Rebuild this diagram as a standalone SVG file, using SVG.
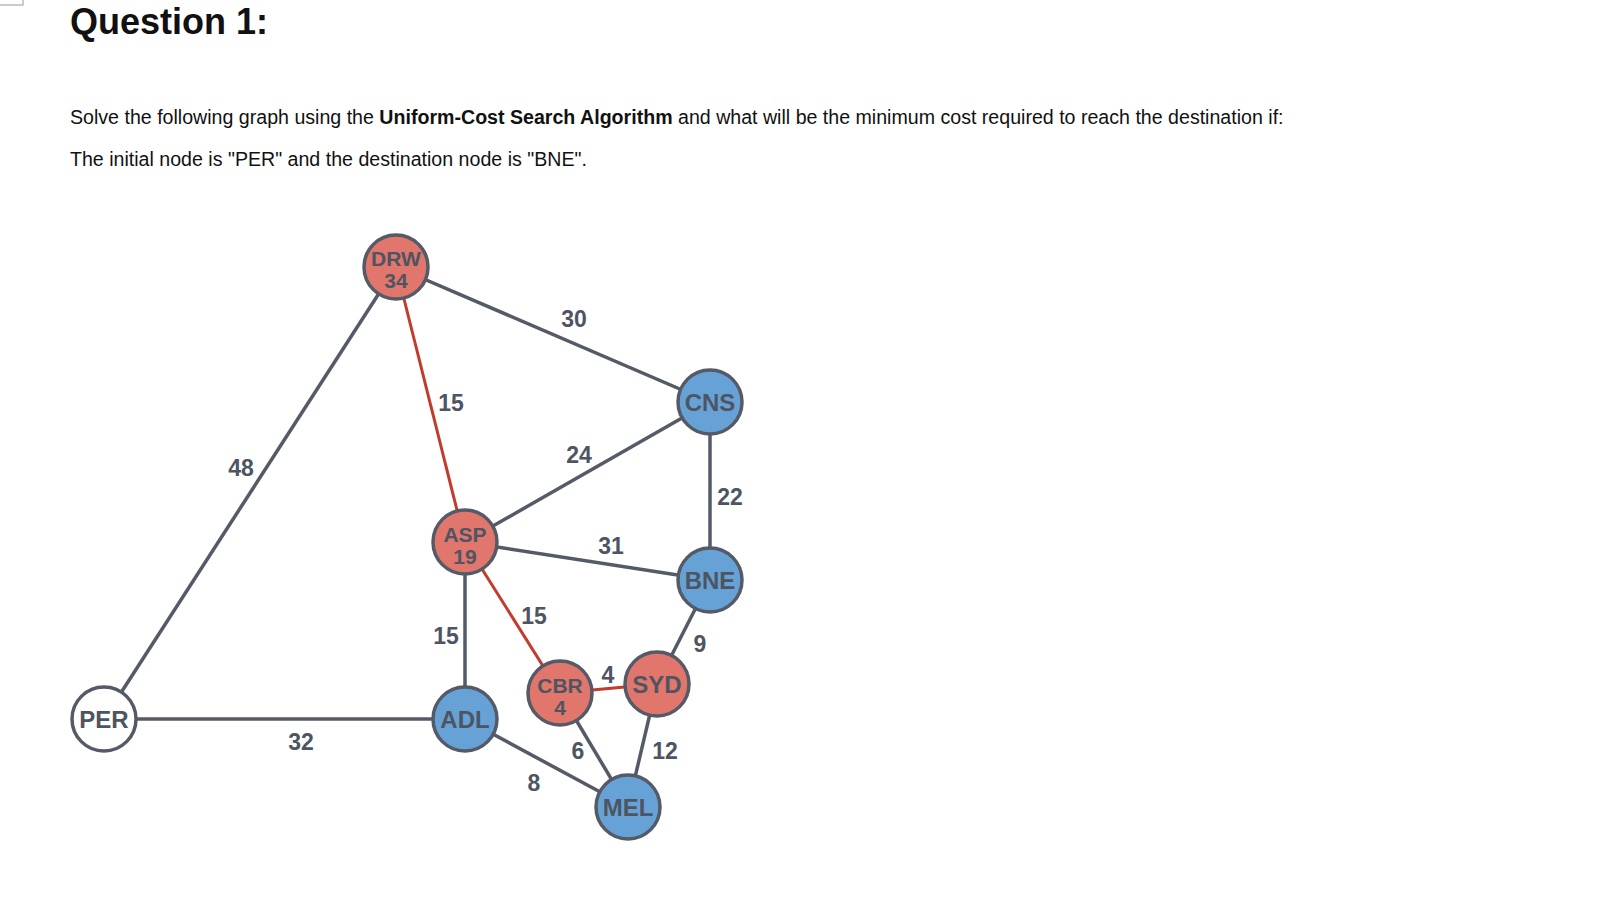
<svg xmlns="http://www.w3.org/2000/svg" width="1604" height="910" viewBox="0 0 1604 910">
<style>
.e{stroke:#545a66;stroke-width:3.5;fill:none}
.r{stroke:#c23b2e;stroke-width:3;fill:none}
.n{stroke:#545a66;stroke-width:3.5}
.red{fill:#e0766c}.blue{fill:#67a2d6}.white{fill:#fff}
.t{font-family:"Liberation Sans",Arial,sans-serif;font-weight:bold;font-size:24px;fill:#4e5562;text-anchor:middle}
.s{font-size:21px}
.l{font-family:"Liberation Sans",Arial,sans-serif;font-weight:bold;font-size:23px;fill:#4e5562;text-anchor:middle;dominant-baseline:central}
.p{font-family:"Liberation Sans",Arial,sans-serif;font-size:19.6px;fill:#111}
</style>
<rect x="-2" y="-2" width="25" height="7" fill="#fff" stroke="#999" stroke-width="1"/>
<text x="70" y="34" font-family="Liberation Sans,Arial,sans-serif" font-weight="bold" font-size="36" fill="#111">Question 1:</text>
<text class="p" x="70" y="124">Solve the following graph using the <tspan font-weight="bold">Uniform-Cost Search Algorithm</tspan> and what will be the minimum cost required to reach the destination if:</text>
<text class="p" x="70" y="166">The initial node is "PER" and the destination node is "BNE".</text>
<g id="connectors">
<line class="e" x1="396" y1="267" x2="104" y2="719"/>
<line class="e" x1="396" y1="267" x2="710" y2="402"/>
<line class="r" x1="396" y1="267" x2="465" y2="542"/>
<line class="e" x1="465" y1="542" x2="710" y2="402"/>
<line class="e" x1="710" y1="402" x2="710" y2="580"/>
<line class="e" x1="465" y1="542" x2="710" y2="580"/>
<line class="e" x1="465" y1="542" x2="465" y2="719"/>
<line class="r" x1="465" y1="542" x2="560" y2="693"/>
<line class="e" x1="104" y1="719" x2="465" y2="719"/>
<line class="r" x1="560" y1="693" x2="657" y2="684"/>
<line class="e" x1="710" y1="580" x2="657" y2="684"/>
<line class="e" x1="465" y1="719" x2="628" y2="807"/>
<line class="e" x1="560" y1="693" x2="628" y2="807"/>
<line class="e" x1="657" y1="684" x2="628" y2="807"/>
<text class="l" x="574" y="319">30</text>
<text class="l" x="451" y="403">15</text>
<text class="l" x="241" y="468">48</text>
<text class="l" x="579" y="455">24</text>
<text class="l" x="730" y="497">22</text>
<text class="l" x="611" y="546">31</text>
<text class="l" x="534" y="616">15</text>
<text class="l" x="446" y="636">15</text>
<text class="l" x="700" y="644">9</text>
<text class="l" x="608" y="675">4</text>
<text class="l" x="301" y="742">32</text>
<text class="l" x="578" y="751">6</text>
<text class="l" x="665" y="751">12</text>
<text class="l" x="534" y="783">8</text>
</g>
<g id="DRW"><circle class="n red" cx="396" cy="267" r="32"/><text class="t s" x="396" y="266">DRW</text><text class="t s" x="396" y="288">34</text></g>
<g id="CNS"><circle class="n blue" cx="710" cy="402" r="32"/><text class="t" x="710" y="411">CNS</text></g>
<g id="ASP"><circle class="n red" cx="465" cy="542" r="32"/><text class="t s" x="465" y="542">ASP</text><text class="t s" x="465" y="564">19</text></g>
<g id="BNE"><circle class="n blue" cx="710" cy="580" r="32"/><text class="t" x="710" y="589">BNE</text></g>
<g id="PER"><circle class="n white" cx="104" cy="719" r="32"/><text class="t" x="104" y="728">PER</text></g>
<g id="ADL"><circle class="n blue" cx="465" cy="719" r="32"/><text class="t" x="465" y="728">ADL</text></g>
<g id="CBR"><circle class="n red" cx="560" cy="693" r="32"/><text class="t s" x="560" y="693">CBR</text><text class="t s" x="560" y="715">4</text></g>
<g id="SYD"><circle class="n red" cx="657" cy="684" r="32"/><text class="t" x="657" y="693">SYD</text></g>
<g id="MEL"><circle class="n blue" cx="628" cy="807" r="32"/><text class="t" x="628" y="816">MEL</text></g>
</svg>
